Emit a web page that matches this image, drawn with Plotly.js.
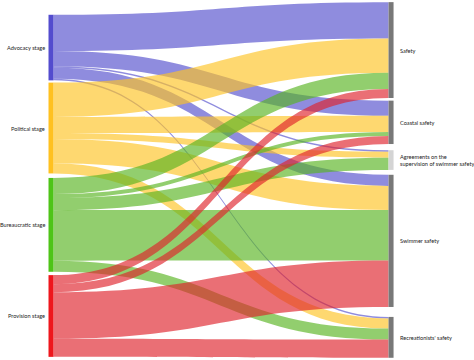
<!DOCTYPE html>
<html>
<head>
<meta charset="utf-8">
<script src="https://cdn.plot.ly/plotly-3.0.1.min.js"></script>
<style>html,body{margin:0;padding:0;background:#fff;}#chart{width:474px;height:360px;}</style>
</head>
<body>
<div id="chart"></div>
<script>
// Node labels
var sourceLabels = ["Advocacy stage", "Political stage", "Bureaucratic stage", "Provision stage"];
var targetLabels = ["Safety", "Coastal safety", "Agreements on the<br>supervision of swimmer safety", "Swimmer safety", "Recreationists' safety"];

// Flow values from each stage to each safety category (order = targetLabels)
var advocacyFlows     = [36, 15, 1.5, 11, 1.5];
var politicalFlows    = [34, 16, 6, 24, 10];
var bureaucraticFlows = [16, 4, 12, 50, 11];
var provisionFlows    = [9, 8, 0, 46, 18];

var flows = [advocacyFlows, politicalFlows, bureaucraticFlows, provisionFlows];

var sourceColors = ["rgb(83,76,206)", "rgb(255,193,32)", "rgb(78,196,24)", "rgb(238,22,28)"];
var linkColors = ["rgba(83,78,204,0.65)", "rgba(254,195,35,0.65)", "rgba(88,180,32,0.65)", "rgba(223,34,43,0.65)"];
var targetColors = ["rgb(120,120,120)", "rgb(120,120,120)", "rgb(212,212,212)", "rgb(120,120,120)", "rgb(120,120,120)"];

// layout positions (fractions of plot area)
var leftX = 0.1076, rightX = 0.825;
var sourceY = [0.128, 0.354, 0.626, 0.882];
var targetY = [0.135, 0.338, 0.444, 0.671, 0.942];

var labels = sourceLabels.concat(targetLabels);
var nodeX = [], nodeY = [], nodeColors = sourceColors.concat(targetColors);
sourceLabels.forEach(function(l, i){ nodeX.push(leftX); nodeY.push(sourceY[i]); });
targetLabels.forEach(function(l, i){ nodeX.push(rightX); nodeY.push(targetY[i]); });

var src = [], tgt = [], val = [], lcol = [];
flows.forEach(function(row, i){
  row.forEach(function(v, j){
    if (v > 0) { src.push(i); tgt.push(sourceLabels.length + j); val.push(v); lcol.push(linkColors[i]); }
  });
});

var trace = {
  type: 'sankey',
  arrangement: 'fixed',
  domain: {x: [0, 1], y: [0, 1]},
  node: {
    label: labels.map(function(){ return ''; }),
    customdata: labels,
    x: nodeX, y: nodeY,
    color: nodeColors,
    thickness: 5,
    pad: 6,
    line: {width: 0}
  },
  link: { source: src, target: tgt, value: val, color: lcol }
};

var labelFont = {family:'Lato, sans-serif', size:5.6, color:'#222'};
var annotations = [];
sourceLabels.forEach(function(l, i){
  annotations.push({xref:'paper', yref:'paper', x: 46/474, y: 1 - sourceY[i], text: l,
    showarrow:false, xanchor:'right', yanchor:'middle', borderpad:0, font:labelFont});
});
targetLabels.forEach(function(l, i){
  annotations.push({xref:'paper', yref:'paper', x: 399/474, y: 1 - targetY[i], text: l,
    showarrow:false, xanchor:'left', yanchor:'middle', align:'left', borderpad:0, font:labelFont});
});

var layout = {
  width: 474, height: 360,
  margin: {l: 0, r: 0, t: 2, b: 2},
  paper_bgcolor: '#fff',
  showlegend: false,
  annotations: annotations
};

Plotly.newPlot('chart', [trace], layout, {displayModeBar: false, staticPlot: true});
</script>
</body>
</html>
